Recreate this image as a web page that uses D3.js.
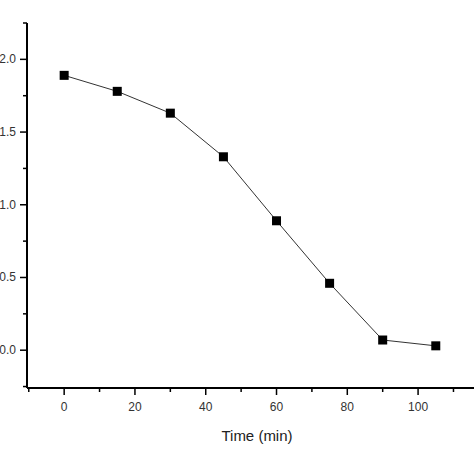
<!DOCTYPE html>
<html><head><meta charset="utf-8">
<script src="https://cdn.jsdelivr.net/npm/d3@7"></script>
<style>body{margin:0;background:#fff}svg{display:block}</style>
</head><body>
<div id="chart"></div>
<script>
const times = [0, 15, 30, 45, 60, 75, 90, 105];
const values = [1.89, 1.78, 1.63, 1.33, 0.89, 0.46, 0.07, 0.03];
const xTicks = [0, 20, 40, 60, 80, 100];
const yTicks = [0, 0.5, 1.0, 1.5, 2.0];

const svg = d3.select("#chart").append("svg")
  .attr("width", 474).attr("height", 474)
  .style("font-family", "Arial, 'Liberation Sans', sans-serif");

const x = d3.scaleLinear().domain([-10.5, 115.8]).range([27, 474]);
const y = d3.scaleLinear().domain([-0.26, 2.25]).range([388, 23]);

// axis lines
svg.append("line").attr("x1", 27).attr("x2", 474).attr("y1", 388).attr("y2", 388)
  .attr("stroke", "#000").attr("stroke-width", 2);
svg.append("line").attr("x1", 27).attr("x2", 27).attr("y1", 23).attr("y2", 388)
  .attr("stroke", "#000").attr("stroke-width", 2);

// x ticks
const xMinor = d3.range(-10, 116, 10);
svg.selectAll(".xt").data(xMinor).enter().append("line")
  .attr("x1", d => x(d)).attr("x2", d => x(d))
  .attr("y1", 388).attr("y2", d => d % 20 === 0 ? 395 : 392)
  .attr("stroke", "#000").attr("stroke-width", 1.5);
svg.selectAll(".xl").data(xTicks).enter().append("text")
  .attr("x", d => x(d)).attr("y", 411).attr("text-anchor", "middle")
  .attr("font-size", 12).attr("fill", "#333").text(d => d);

// y ticks
const yMinor = d3.range(-0.25, 2.3, 0.25);
svg.selectAll(".yt").data(yMinor).enter().append("line")
  .attr("x1", d => Math.abs(d * 2 - Math.round(d * 2)) < 1e-6 ? 20 : 23).attr("x2", 27)
  .attr("y1", d => y(d)).attr("y2", d => y(d))
  .attr("stroke", "#000").attr("stroke-width", 1.5);
svg.selectAll(".yl").data(yTicks).enter().append("text")
  .attr("x", 16).attr("y", d => y(d) + 4).attr("text-anchor", "end")
  .attr("font-size", 12).attr("fill", "#333").text(d => d.toFixed(1));

svg.append("text").attr("x", 257).attr("y", 441).attr("text-anchor", "middle")
  .attr("font-size", 15).attr("fill", "#222").text("Time (min)");

const pts = times.map((t, i) => [t, values[i]]);
svg.append("path").datum(pts)
  .attr("d", d3.line().x(d => x(d[0])).y(d => y(d[1])))
  .attr("fill", "none").attr("stroke", "#333").attr("stroke-width", 1);
svg.selectAll(".pt").data(pts).enter().append("rect")
  .attr("x", d => x(d[0]) - 4.5).attr("y", d => y(d[1]) - 4.5)
  .attr("width", 9).attr("height", 9).attr("fill", "#000");
</script>
</body></html>
